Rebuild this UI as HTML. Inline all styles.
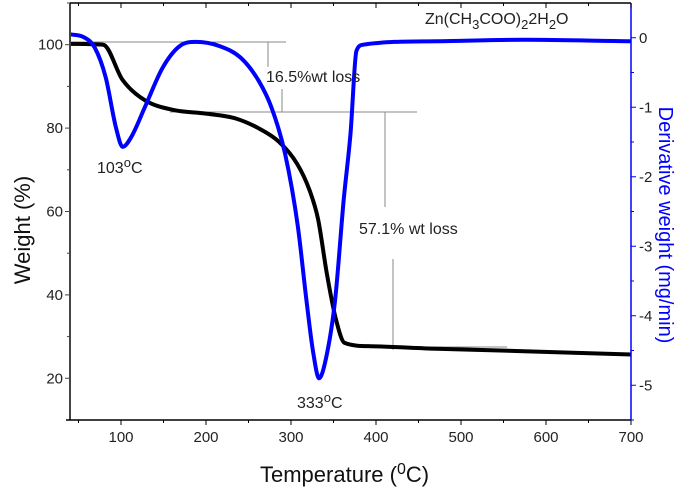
<!DOCTYPE html>
<html><head><meta charset="utf-8"><style>
html,body{margin:0;padding:0;background:#fff;}
svg{display:block;font-family:"Liberation Sans",Arial,sans-serif;}
</style></head><body>
<svg id="chart" width="685" height="490" viewBox="0 0 685 490">
<g id="ann" stroke="#888" stroke-width="1" fill="none">
<line x1="70" y1="42" x2="286" y2="42"/>
<line x1="268" y1="42" x2="268" y2="67"/>
<line x1="282" y1="89" x2="282" y2="112"/>
<line x1="170" y1="112" x2="417" y2="112"/>
<line x1="385" y1="112" x2="385" y2="207"/>
<line x1="393" y1="259" x2="393" y2="350"/>
<line x1="393" y1="347" x2="507" y2="347"/>
</g>
<g id="series"></g>
<g id="axes"></g>
<text x="266" y="82" font-size="16" fill="#222">16.5%wt loss</text>
<text x="359" y="234" font-size="16" fill="#222">57.1% wt loss</text>
<text x="97" y="173" font-size="16" fill="#222">103<tspan dy="-6" font-size="13">o</tspan><tspan dy="6">C</tspan></text>
<text x="297" y="408" font-size="16" fill="#222">333<tspan dy="-6" font-size="13">o</tspan><tspan dy="6">C</tspan></text>
<text x="425" y="24" font-size="16" fill="#222">Zn(CH<tspan dy="5" font-size="13">3</tspan><tspan dy="-5">COO)</tspan><tspan dy="5" font-size="13">2</tspan><tspan dy="-5">2H</tspan><tspan dy="5" font-size="13">2</tspan><tspan dy="-5">O</tspan></text>
<text x="260" y="482" font-size="22" fill="#111">Temperature (<tspan dy="-8" font-size="16">0</tspan><tspan dy="8">C)</tspan></text>
<text transform="translate(30,230) rotate(-90)" text-anchor="middle" font-size="22" fill="#111">Weight (%)</text>
<text transform="translate(659,225) rotate(90)" text-anchor="middle" font-size="20" fill="#0000ff">Derivative weight (mg/min)</text>
</svg>
<script>
const tgaTemp=[40,79,102,128,163,199,235,266,286,307,322,332,342,353,363,394,471,574,700];
const tgaWeight=[100.2,100,91.5,86.7,84.3,83.5,82.3,79.5,76.7,71.5,65,58,45.3,34,28.5,27.7,27.1,26.5,25.7];
const dtgTemp=[40,56,69,82,94,102,112,128,149,169,188,216,241,262,277,293,308,318,326,333,341,352,362,370,377,385,421,472,574,700];
const dtgValue=[0.05,0.01,-0.14,-0.57,-1.29,-1.57,-1.43,-1.0,-0.43,-0.12,-0.06,-0.12,-0.29,-0.62,-1.0,-1.67,-2.71,-3.76,-4.52,-4.9,-4.62,-3.76,-2.33,-1.38,-0.19,-0.1,-0.06,-0.05,-0.03,-0.05];
const xTicks=[100,200,300,400,500,600,700];
const yTicks=[20,40,60,80,100];
const y2Ticks=[0,-1,-2,-3,-4,-5];
const y2Labels=['0','-1','-2','-3','-4','-5'];

const X0=70,X1=631,Y0=420,Y1=3;
const xs=t=>X0+(t-40)/(700-40)*(X1-X0);
const ys=w=>Y0-(w-10)/(110-10)*(Y0-Y1);
const ys2=d=>Y0-(d+5.5)/6*(Y0-Y1);
const NS='http://www.w3.org/2000/svg';
function mk(tag,attrs,parent){const e=document.createElementNS(NS,tag);for(const k in attrs)e.setAttribute(k,attrs[k]);parent.appendChild(e);return e;}
function smooth(pts){
 const n=pts.length,dl=[],m=[];
 for(let i=0;i<n-1;i++)dl.push((pts[i+1][1]-pts[i][1])/(pts[i+1][0]-pts[i][0]));
 m[0]=dl[0];m[n-1]=dl[n-2];
 for(let i=1;i<n-1;i++){m[i]=(dl[i-1]*dl[i]<=0)?0:(dl[i-1]+dl[i])/2;}
 for(let i=0;i<n-1;i++){if(dl[i]===0){m[i]=0;m[i+1]=0;continue;}
  const a=m[i]/dl[i],b=m[i+1]/dl[i],s=a*a+b*b;if(s>9){const t=3/Math.sqrt(s);m[i]=t*a*dl[i];m[i+1]=t*b*dl[i];}}
 let d='M'+pts[0][0].toFixed(1)+','+pts[0][1].toFixed(1);
 for(let i=0;i<n-1;i++){const h=(pts[i+1][0]-pts[i][0])/3;
  d+=' C'+(pts[i][0]+h).toFixed(1)+','+(pts[i][1]+m[i]*h).toFixed(1)+' '+(pts[i+1][0]-h).toFixed(1)+','+(pts[i+1][1]-m[i+1]*h).toFixed(1)+' '+pts[i+1][0].toFixed(1)+','+pts[i+1][1].toFixed(1);}
 return d;}
const S=document.getElementById('series'),A=document.getElementById('axes');
const tga=mk('path',{d:smooth(tgaTemp.map((t,i)=>[xs(t),ys(tgaWeight[i])])),fill:'none',stroke:'#000','stroke-width':4},S);


const dtg=mk('path',{d:smooth(dtgTemp.map((t,i)=>[xs(t),ys2(dtgValue[i])])),fill:'none',stroke:'#0000ff','stroke-width':4},S);


let l;
l=mk('line',{x1:X0,y1:Y1,x2:X0,y2:Y0,stroke:'#444','stroke-width':2},A);


l=mk('line',{x1:X0-4,y1:Y0,x2:X1,y2:Y0,stroke:'#000','stroke-width':1.5},A);


l=mk('line',{x1:X0,y1:Y1,x2:X1,y2:Y1,stroke:'#000','stroke-width':1.5},A);


l=mk('line',{x1:X1,y1:Y1,x2:X1,y2:Y0,stroke:'#0000ff','stroke-width':1.5},A);


for(let t=50;t<=700;t+=50){const x=xs(t),maj=t%100===0;
 mk('line',{x1:x,y1:Y0,x2:x,y2:Y0+(maj?5:3),stroke:'#000'},A);
 mk('line',{x1:x,y1:Y1,x2:x,y2:Y1+(maj?5:3),stroke:'#000'},A);}
xTicks.forEach(t=>{const e=mk('text',{x:xs(t),y:Y0+22,'text-anchor':'middle','font-size':15,fill:'#222'},A);e.textContent=t;
 
 });
for(let w=20;w<=110;w+=10){const y=ys(w);mk('line',{x1:X0,y1:y,x2:X0-(w%20===0?5:3),y2:y,stroke:'#444'},A);}
yTicks.forEach(w=>{const e=mk('text',{x:X0-7,y:ys(w)+5,'text-anchor':'end','font-size':15,fill:'#222'},A);e.textContent=w;
 
 });
for(let d=0;d>=-5.5;d-=0.5){const y=ys2(d);mk('line',{x1:X1,y1:y,x2:X1+(Math.abs(d%1)<0.01?5:3),y2:y,stroke:'#0000ff'},A);}
y2Ticks.forEach((d,i)=>{const e=mk('text',{x:X1+8,y:ys2(d)+5,'font-size':15,fill:'#222'},A);e.textContent=y2Labels[i];
 
 });
</script>
</body></html>
